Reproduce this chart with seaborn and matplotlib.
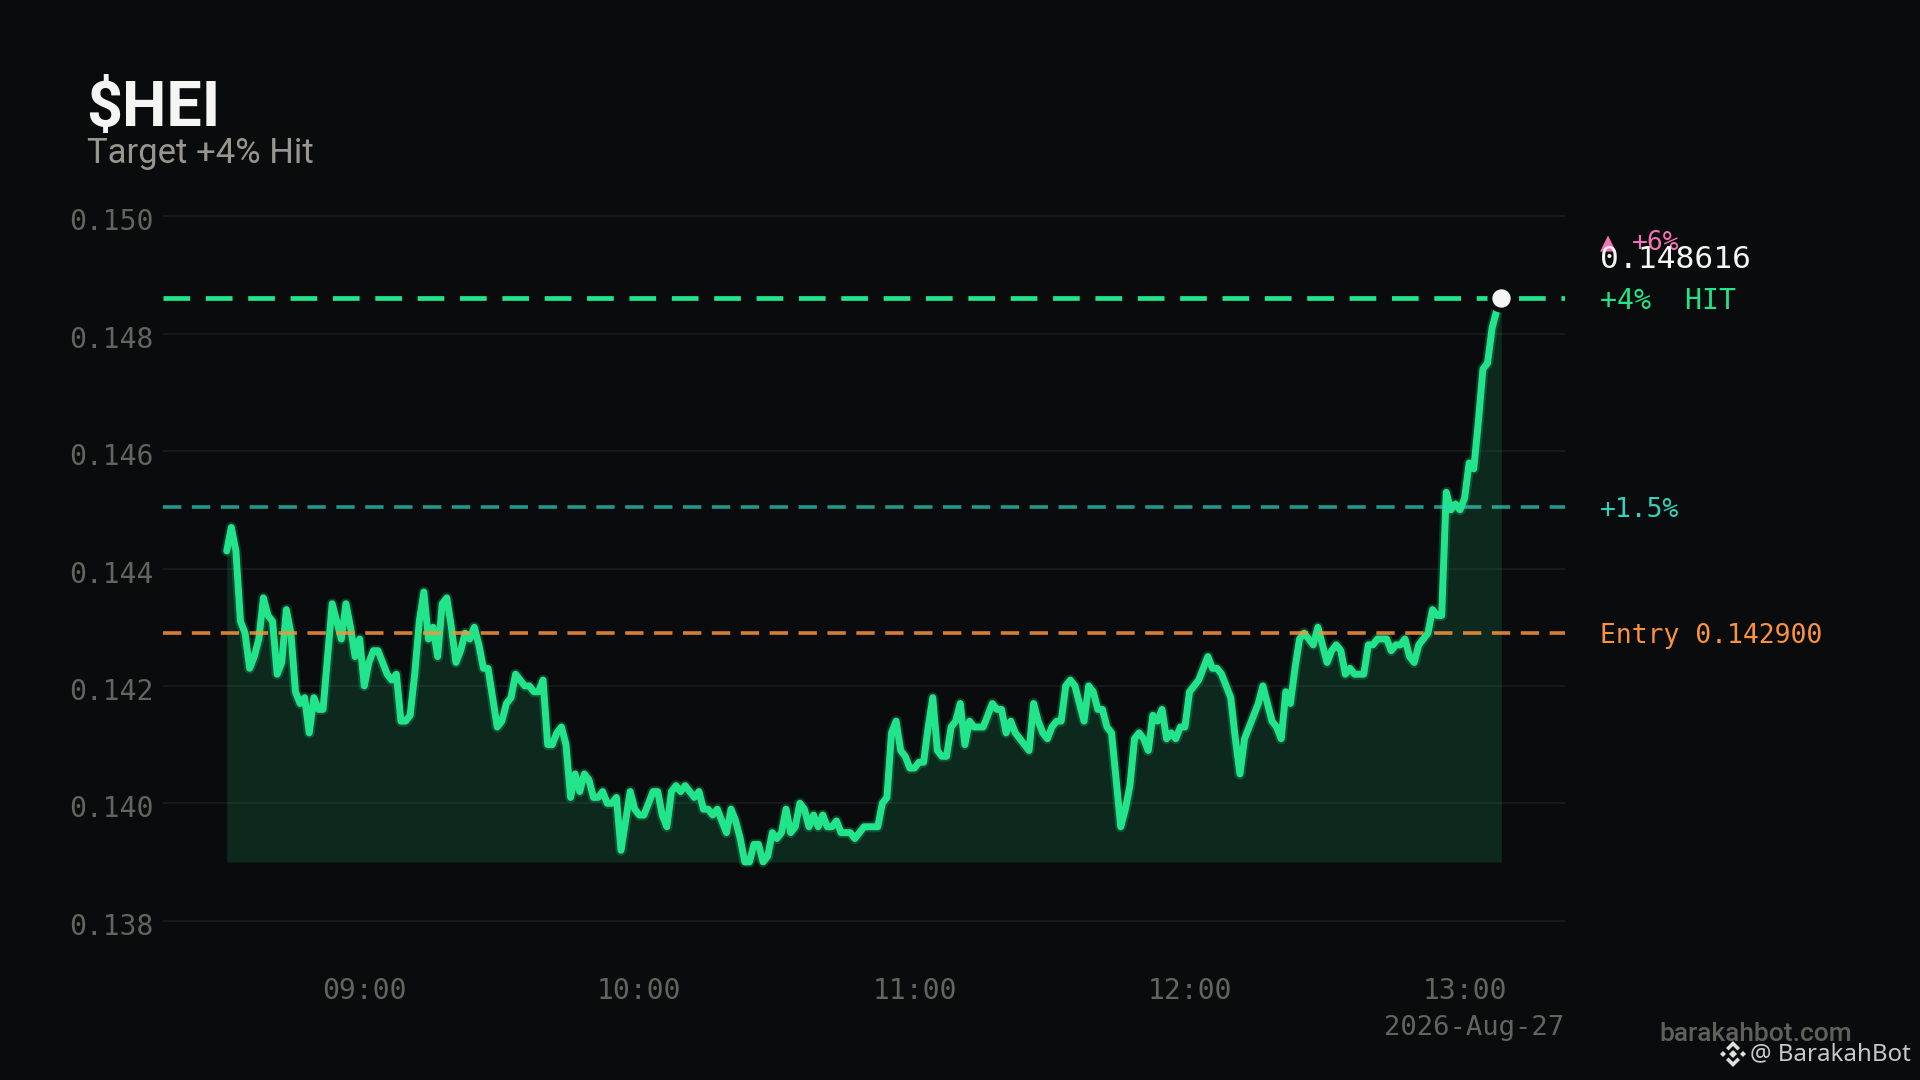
"""Price chart for $HEI: one day of minute closes with entry and target levels."""

import matplotlib
matplotlib.use('Agg')
import matplotlib.dates as mdates
import matplotlib.pyplot as plt
import matplotlib.transforms as mtransforms
import numpy as np
import pandas as pd
import seaborn as sns
from matplotlib.patches import Polygon

# --- Data ---
prices = [
    0.1443, 0.1447, 0.1443, 0.1431, 0.1429, 0.1423, 0.1425, 0.1428, 0.1435, 0.1432,
    0.1431, 0.1422, 0.1424, 0.1433, 0.1429, 0.1419, 0.1417, 0.1418, 0.1412, 0.1418,
    0.1416, 0.1416, 0.1425, 0.1434, 0.1431, 0.1428, 0.1434, 0.1430, 0.1425, 0.1428,
    0.1420, 0.1424, 0.1426, 0.1426, 0.1424, 0.1422, 0.1421, 0.1422, 0.1414, 0.1414,
    0.1415, 0.1422, 0.1431, 0.1436, 0.1428, 0.1430, 0.1425, 0.1434, 0.1435, 0.1430,
    0.1424, 0.1426, 0.1429, 0.1428, 0.1430, 0.1427, 0.1423, 0.1423, 0.1418, 0.1413,
    0.1414, 0.1417, 0.1418, 0.1422, 0.1421, 0.1420, 0.1420, 0.1419, 0.1419, 0.1421,
    0.1410, 0.1410, 0.1412, 0.1413, 0.1410, 0.1401, 0.1405, 0.1402, 0.1405, 0.1404,
    0.1401, 0.1401, 0.1402, 0.1400, 0.1400, 0.1401, 0.1392, 0.1397, 0.1402, 0.1399,
    0.1398, 0.1398, 0.1400, 0.1402, 0.1402, 0.1398, 0.1396, 0.1402, 0.1403, 0.1402,
    0.1403, 0.1402, 0.1401, 0.1402, 0.1399, 0.1399, 0.1398, 0.1399, 0.1397, 0.1395,
    0.1399, 0.1397, 0.1394, 0.1390, 0.1390, 0.1393, 0.1393, 0.1390, 0.1391, 0.1395,
    0.1394, 0.1395, 0.1399, 0.1395, 0.1396, 0.1400, 0.1399, 0.1396, 0.1398, 0.1396,
    0.1398, 0.1396, 0.1396, 0.1397, 0.1395, 0.1395, 0.1395, 0.1394, 0.1395, 0.1396,
    0.1396, 0.1396, 0.1396, 0.1400, 0.1401, 0.1412, 0.1414, 0.1409, 0.1408, 0.1406,
    0.1406, 0.1407, 0.1407, 0.1413, 0.1418, 0.1409, 0.1408, 0.1408, 0.1413, 0.1414,
    0.1417, 0.1410, 0.1414, 0.1413, 0.1413, 0.1413, 0.1415, 0.1417, 0.1416, 0.1416,
    0.1412, 0.1414, 0.1412, 0.1411, 0.1410, 0.1409, 0.1417, 0.1414, 0.1412, 0.1411,
    0.1413, 0.1414, 0.1414, 0.1420, 0.1421, 0.1420, 0.1417, 0.1414, 0.1420, 0.1419,
    0.1416, 0.1416, 0.1413, 0.1412, 0.1404, 0.1396, 0.1399, 0.1403, 0.1411, 0.1412,
    0.1411, 0.1409, 0.1415, 0.1414, 0.1416, 0.1411, 0.1412, 0.1411, 0.1413, 0.1413,
    0.1419, 0.1420, 0.1421, 0.1423, 0.1425, 0.1423, 0.1423, 0.1422, 0.1420, 0.1418,
    0.1411, 0.1405, 0.1411, 0.1413, 0.1415, 0.1417, 0.1420, 0.1417, 0.1414, 0.1413,
    0.1411, 0.1419, 0.1417, 0.1423, 0.1428, 0.1429, 0.1428, 0.1427, 0.1430, 0.1427,
    0.1424, 0.1426, 0.1427, 0.1426, 0.1422, 0.1423, 0.1422, 0.1422, 0.1422, 0.1427,
    0.1427, 0.1428, 0.1428, 0.1428, 0.1426, 0.1427, 0.1427, 0.1428, 0.1425, 0.1424,
    0.1427, 0.1428, 0.1429, 0.1433, 0.1432, 0.1432, 0.1453, 0.1450, 0.1451, 0.1450,
    0.1452, 0.1458, 0.1457, 0.1465, 0.1474, 0.1475, 0.1481, 0.1484, 0.1486,
]
start_time = '2026-08-27 08:30'
entry_price = 0.1429
level_1_5 = 0.145044
level_4 = 0.148616
y_ticks = [0.138, 0.140, 0.142, 0.144, 0.146, 0.148, 0.150]

BG = '#0A0B0D'
GREEN = '#22E58B'
TEAL = '#2DD4BF'
ORANGE = '#FB923C'
PINK = '#F472B6'
WHITE = '#F5F5F3'
MONO = 'DejaVu Sans Mono'
W, H = 1920, 1080


def px(x, y):
    """Figure fraction from pixel position (origin top left)."""
    return x / W, 1 - y / H


def put(x, y, text, **kw):
    fx, fy = px(x, y)
    fig.text(fx, fy, text, **kw)


sns.set_theme(style='dark', rc={
    'figure.facecolor': BG,
    'axes.facecolor': BG,
    'lines.scale_dashes': False,
})

times = pd.date_range(start_time, periods=len(prices), freq='min')
df = pd.DataFrame({'time': times, 'price': prices})

fig = plt.figure(figsize=(W / 100, H / 100), dpi=100)
ax = fig.add_axes([163 / W, 1 - 950 / H, (1565 - 163) / W, (950 - 200) / H])

ax.fill_between(df['time'], df['price'], df['price'].min(),
                color=GREEN, alpha=0.14, lw=0, zorder=2)
sns.lineplot(data=df, x='time', y='price', ax=ax, color=GREEN, lw=8.0, alpha=0.2,
             estimator=None, solid_capstyle='round', solid_joinstyle='round', zorder=3)
sns.lineplot(data=df, x='time', y='price', ax=ax, color=GREEN, lw=5.0,
             estimator=None, solid_capstyle='round', solid_joinstyle='round', zorder=4)

# Level lines
ax.axhline(entry_price, color=ORANGE, lw=2.6, alpha=0.85,
           linestyle=(0, (13.2, 7.6)), zorder=5)
ax.axhline(level_1_5, color=TEAL, lw=2.6, alpha=0.7,
           linestyle=(0, (13.2, 7.6)), zorder=5)
ax.axhline(level_4, color=GREEN, lw=3.4,
           linestyle=(0, (19.2, 11.3)), zorder=5)

ax.scatter(times[-1], level_4, s=280, color=WHITE, edgecolor=BG, linewidth=3.5, zorder=6)

ax.set_ylim(0.1375, 0.15028)
ax.margins(x=0.05)
ax.set_yticks(y_ticks)
ax.yaxis.set_major_formatter(matplotlib.ticker.FormatStrFormatter('%.3f'))
ax.xaxis.set_major_locator(mdates.HourLocator())
ax.xaxis.set_major_formatter(mdates.DateFormatter('%H:%M'))
ax.set_xlabel('')
ax.set_ylabel('')
ax.grid(axis='y', color='#17181A', lw=1.5, zorder=1)
ax.grid(axis='x', visible=False)
ax.tick_params(axis='x', length=0, pad=19.3, colors='#636360', labelsize=20.2)
ax.tick_params(axis='y', length=0, pad=7, colors='#636360', labelsize=20.2)
for lab in ax.get_xticklabels() + ax.get_yticklabels():
    lab.set_family(MONO)
# y labels sit a little under their grid lines
nudge = mtransforms.ScaledTranslation(0, -3 / 100, fig.dpi_scale_trans)
for lab in ax.get_yticklabels():
    lab.set_transform(lab.get_transform() + nudge)
sns.despine(ax=ax, left=True, bottom=True)

# Heading
put(86, 126, '$HEI', color=WHITE, fontsize=45.2, fontweight='bold', family='Roboto')
put(87, 163, 'Target +4% Hit', color='#96968F', fontsize=24.9, family='Roboto')

# Right hand labels
put(1600, 243, '▲', color=PINK, fontsize=15, family='DejaVu Sans', va='center')
put(1632, 243, '+6%', color=PINK, fontsize=19, family=MONO, va='center')
put(1600, 259, '0.148616', color=WHITE, fontsize=22.5, family=MONO, va='center')
put(1600, 301, '+4%  HIT', color=GREEN, fontsize=20.3, family=MONO, va='center')
put(1600, 510, '+1.5%', color=TEAL, fontsize=19, family=MONO, va='center')
put(1600, 636, 'Entry 0.142900', color=ORANGE, fontsize=19, family=MONO, va='center')

# Footer
put(1564, 1028, '2026-Aug-27', color='#636360', fontsize=19.6, family=MONO,
    ha='right', va='center')
put(1852, 1034, 'barakahbot.com', color='#5F5F5C', fontsize=19, fontweight='medium',
    family='Roboto', ha='right', va='center')
put(1911, 1054, '@ BarakahBot', color='#C8C8C8', fontsize=17.3, family='Noto Sans',
    ha='right', va='center')

# Exchange mark next to the handle
cx, cy = 1733, 1054
shapes = [
    [(0, -4), (4, 0), (0, 4), (-4, 0)],
    [(-13, 0), (-10, -3), (-7, 0), (-10, 3)],
    [(13, 0), (10, -3), (7, 0), (10, 3)],
    [(0, -13), (7, -6), (4.5, -3.5), (0, -8), (-4.5, -3.5), (-7, -6)],
    [(0, 13), (7, 6), (4.5, 3.5), (0, 8), (-4.5, 3.5), (-7, 6)],
]
for shape in shapes:
    pts = np.array([px(cx + dx, cy + dy) for dx, dy in shape])
    fig.add_artist(Polygon(pts, closed=True, transform=fig.transFigure,
                           facecolor='#E0E0E0', edgecolor='none'))

fig.savefig('out.png', dpi=100, facecolor=BG)
plt.close(fig)
